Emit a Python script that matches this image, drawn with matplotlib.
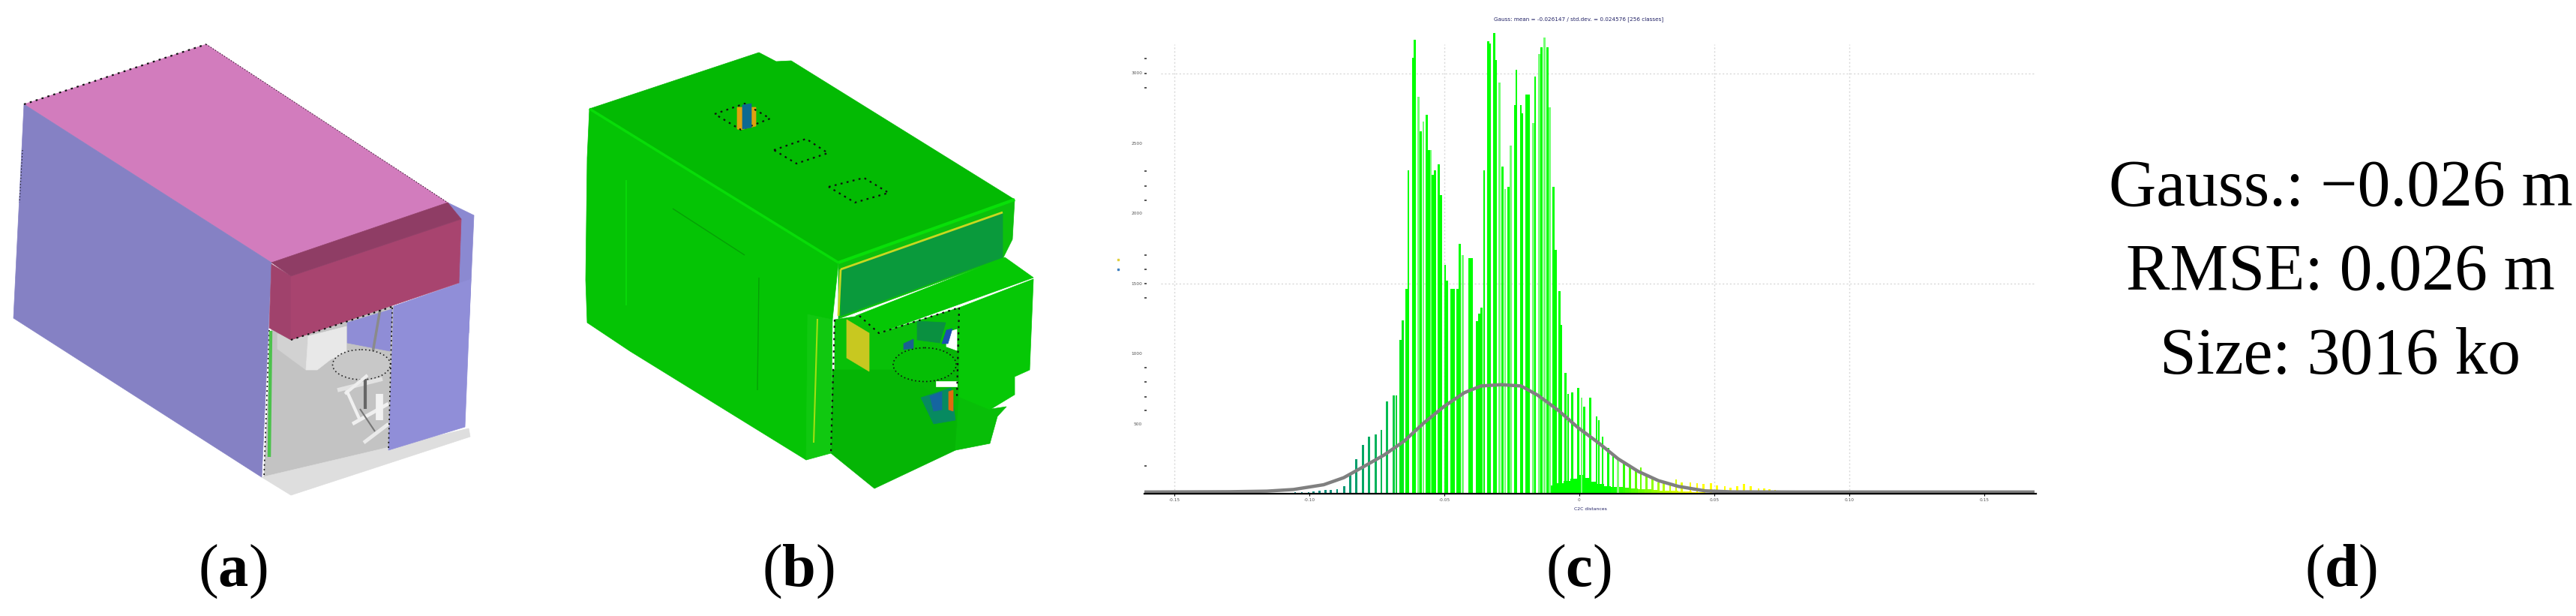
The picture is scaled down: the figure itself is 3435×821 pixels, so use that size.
import matplotlib
matplotlib.use('Agg')
import matplotlib.pyplot as plt
from matplotlib.colors import LinearSegmentedColormap, to_rgb
from matplotlib.patches import Polygon, Ellipse

plt.rcParams['font.family'] = ['Liberation Serif', 'DejaVu Serif']
plt.rcParams['mathtext.fontset'] = 'custom'
plt.rcParams['mathtext.rm'] = 'Liberation Serif'
plt.rcParams['mathtext.bf'] = 'Liberation Serif:bold'

W, H = 3435, 821

#====================HISTOGRAM DATA (c)==================
bar_x = [-0.1053, -0.1028, -0.1003, -0.0984, -0.0962, -0.0941, -0.0920, -0.0897, -0.0870, -0.0848,
         -0.0826, -0.0801, -0.0780, -0.0755, -0.0733, -0.0712, -0.0687, -0.0678, -0.0662, -0.0655,
         -0.0641, -0.0633, -0.0617, -0.0610, -0.0596, -0.0588, -0.0578, -0.0566, -0.0557, -0.0550,
         -0.0543, -0.0535, -0.0521, -0.0513, -0.0497, -0.0491, -0.0474, -0.0466, -0.0451, -0.0444,
         -0.0431, -0.0407, -0.0399, -0.0380, -0.0371, -0.0362, -0.0353, -0.0338, -0.0331, -0.0316,
         -0.0308, -0.0295, -0.0285, -0.0275, -0.0263, -0.0255, -0.0239, -0.0233, -0.0217, -0.0211,
         -0.0195, -0.0188, -0.0171, -0.0164, -0.0149, -0.0141, -0.0130, -0.0119, -0.0109, -0.0095,
         -0.0088, -0.0073, -0.0067, -0.0051, -0.0042, -0.0027, -0.0005, 0.0008, 0.0018, 0.0041,
         0.0064, 0.0072, 0.0086, 0.0107, 0.0125, 0.0144, 0.0165, 0.0187, 0.0209, 0.0228,
         0.0249, 0.0271, 0.0293, 0.0312, 0.0336, 0.0358, 0.0380, 0.0411, 0.0436, 0.0460,
         0.0488, 0.0510, 0.0539, 0.0560, 0.0584, 0.0609, 0.0634, 0.0664, 0.0685, 0.0705,
         0.0725, 0.0745, 0.0817]
bar_h = [11, 11, 11, 16, 20, 25, 28, 34, 52, 132,
         248, 349, 408, 421, 453, 658, 702, 702, 1095, 1237,
         1460, 2307, 3109, 3237, 2827, 2583, 2654, 2699, 2449, 2449,
         2274, 2307, 2348, 2128, 1633, 1518, 1460, 1460, 1460, 1781,
         1700, 1677, 1677, 1228, 1282, 1326, 2307, 3225, 3207, 3282,
         3091, 2931, 2333, 2173, 2187, 2480, 2770, 3020, 2770, 2711,
         2845, 2845, 2640, 2975, 3136, 3180, 3252, 3180, 2752, 2187,
         1736, 1442, 1202, 863, 711, 720, 756, 685, 622, 685,
         551, 524, 408, 328, 283, 239, 221, 194, 168, 185,
         132, 105, 78, 87, 78, 100, 78, 82, 75, 70,
         73, 61, 52, 43, 52, 70, 52, 40, 35, 30,
         25, 20, 15]
pale_bars = [-0.0596, -0.0578, -0.0550, -0.0431, -0.0295, -0.0275, -0.0255, -0.0171, -0.0149, -0.0130,
             -0.0109, 0.0008, 0.0144]

low_x = [-0.0095, -0.0070, -0.0045, -0.0020, 0.0005, 0.0030, 0.0055, 0.0080, 0.0105, 0.0130, 0.0155,
         0.0180, 0.0205, 0.0230, 0.0255, 0.0280, 0.0305, 0.0330, 0.0355, 0.0380, 0.0405, 0.0430, 0.0455]
low_h = [60, 75, 90, 105, 132, 112, 85, 70, 55, 50, 46,
         42, 38, 34, 30, 27, 24, 22, 20, 17, 15, 12, 10]

gauss_x = [-0.1611, -0.1294, -0.1158, -0.1059, -0.0947, -0.0873, -0.0798, -0.0724, -0.0650, -0.0575,
           -0.0501, -0.0426, -0.0364, -0.0290, -0.0216, -0.0154, -0.0079, -0.0005, 0.0070, 0.0144,
           0.0218, 0.0293, 0.0367, 0.0466, 0.0566, 0.0800, 0.1686]
gauss_y = [12, 14, 18, 30, 64, 114, 194, 275, 373, 506,
           622, 720, 768, 777, 768, 702, 596, 471, 364, 248,
           159, 93, 52, 20, 13, 12, 12]

x_ticks = [-0.15, -0.10, -0.05, 0, 0.05, 0.10, 0.15]
x_labels = ['-0.15', '-0.10', '-0.05', '0', '0.05', '0.10', '0.15']
x_grid = [-0.15, -0.05, 0.05, 0.10]
y_ticks = [500, 1000, 1500, 2000, 2500, 3000]
y_minor = [3102, 2995, 2893, 2300, 2193, 2091, 1701, 1599, 1497, 1396, 898, 797, 690, 594, 198]
y_grid = [1497, 2995]

hist_title = 'Gauss: mean = -0.026147 / std.dev. = 0.024576 [256 classes]'
hist_xlabel = 'C2C distances'
stats = ['Gauss.: \u22120.026 m', 'RMSE: 0.026 m', 'Size: 3016 ko']
panel_labels = ['a', 'b', 'c', 'd']
#========================================================

fig = plt.figure(figsize=(W / 100, H / 100), dpi=100, facecolor='white')

# full figure layer in pixels, for the two renders and the text
canvas = fig.add_axes([0, 0, 1, 1])
canvas.set_xlim(0, W)
canvas.set_ylim(H, 0)
canvas.axis('off')


def poly(points, color, z=2):
    canvas.add_patch(Polygon(points, closed=True, facecolor=color, edgecolor=color, lw=0.5, zorder=z))


def dots(points, color='#111111', lw=1.6, z=6, closed=False):
    xs = [p[0] for p in points]
    ys = [p[1] for p in points]
    if closed:
        xs.append(xs[0])
        ys.append(ys[0])
    canvas.plot(xs, ys, color=color, lw=lw, ls=(0, (1.2, 2.5)), zorder=z)


def line(points, color, lw=1.5, z=5):
    canvas.plot([p[0] for p in points], [p[1] for p in points], color=color, lw=lw, zorder=z,
                solid_capstyle='butt')


#============================================================================================================
# PANEL A

poly([(32, 139), (275, 59), (597, 270), (362, 350)], '#D27CBD')
poly([(32, 139), (362, 350), (349, 636), (18, 424)], '#8581C4')
poly([(362, 439), (525, 408), (518, 600), (352, 636)], '#C3C3C3')
poly([(349, 636), (625, 571), (627, 582), (388, 660)], '#DEDEDE')
poly([(463, 430), (523, 412), (520, 468), (463, 457)], '#8F8DD6', 3)
poly([(370, 445), (411, 448), (408, 493), (370, 465)], '#D2D2D2', 3)
poly([(411, 448), (462, 435), (462, 470), (441, 479), (423, 493), (408, 493)], '#E8E8E8', 3)
canvas.add_patch(Ellipse((482, 486), 77, 40, facecolor='#C8C8C8', edgecolor='#222222', lw=1.2, ls=(0, (1, 2)), zorder=5))
line([(507, 412), (497, 470)], '#8A8A8A', 2.5, 4)
line([(450, 520), (510, 505)], '#E2E2E2', 4, 5)
line([(487, 505), (487, 545)], '#666666', 3, 5)
line([(460, 525), (490, 500)], '#EEEEEE', 3, 5)
line([(462, 520), (480, 560)], '#F0F0F0', 3, 5)
line([(470, 565), (518, 538)], '#EFEFEF', 3.5, 5)
line([(485, 590), (518, 565)], '#EAEAEA', 3.5, 5)
line([(480, 545), (500, 575)], '#777777', 1.5, 5)
line([(506, 525), (506, 560)], '#F2F2F2', 7, 5)
poly([(525, 408), (628, 372), (620, 569), (518, 600)], '#908ED8', 6)
poly([(597, 270), (632, 287), (625, 444), (612, 377), (615, 292)], '#8B89D1', 4)
poly([(362, 352), (388, 368), (388, 453), (359, 437)], '#A0426C', 7)
poly([(388, 368), (615, 292), (612, 377), (388, 453)], '#A8446F', 7)
poly([(362, 350), (597, 270), (615, 292), (388, 368)], '#8F3D65', 7)
line([(361, 441), (359, 609)], '#4CC24C', 3.2, 8)
dots([(32, 139), (275, 59)])
dots([(275, 59), (597, 270)], lw=0.7)
dots([(359, 440), (352, 636)], lw=1.2)
dots([(388, 453), (525, 408)], lw=1.5, z=8)
dots([(30, 200), (26, 270)], lw=0.8)
dots([(523, 410), (518, 600)], lw=1.2, z=8)

#============================================================================================================
# PANEL B

poly([(786, 145), (1012, 70), (1035, 82), (1055, 81), (1353, 266), (1118, 350)], '#03BA03')
poly([(786, 145), (1118, 350), (1110, 426), (1075, 613), (840, 468), (783, 430), (781, 373), (783, 210)], '#05C405')
poly([(1118, 350), (1353, 266), (1350, 319), (1337, 345), (1118, 425)], '#0CC00C', 2)
poly([(1121, 359), (1337, 283), (1337, 343), (1121, 421)], '#0A9A3C', 3)
poly([(1141, 421), (1340, 343), (1378, 370), (1172, 444)], '#05C805', 4)
poly([(1113, 426), (1146, 421), (1172, 444), (1279, 410), (1279, 457), (1197, 493), (1113, 493)], '#08C008', 3)
poly([(1197, 493), (1279, 457), (1279, 546), (1274, 600)], '#07B507', 3)
poly([(1279, 410), (1378, 372), (1373, 493), (1353, 502), (1353, 526), (1320, 546), (1279, 529)], '#06C806', 6)
poly([(1077, 419), (1110, 426), (1108, 604), (1075, 613)], '#10C810', 4)
poly([(1110, 493), (1197, 493), (1274, 546), (1274, 600), (1166, 651), (1108, 604)], '#05B505', 3)
poly([(1129, 426), (1159, 444), (1159, 495), (1129, 477)], '#C8C820', 4)
poly([(1223, 428), (1261, 430), (1253, 457), (1223, 453)], '#0A9040', 4)
poly([(1262, 443), (1276, 439), (1276, 467), (1262, 462)], 'white', 5)
poly([(1248, 508), (1276, 508), (1276, 515), (1248, 515)], 'white', 5)
canvas.add_patch(Ellipse((1233, 486), 84, 45, facecolor='#05BE05', edgecolor='#111111', lw=1.2, ls=(0, (1, 2)), zorder=6))
poly([(1279, 525), (1302, 517), (1322, 545), (1342, 542), (1330, 555), (1320, 591), (1274, 600)], '#08BE08', 5)
poly([(1228, 530), (1268, 517), (1274, 560), (1245, 565)], '#078A60', 5)
poly([(1265, 522), (1271, 520), (1271, 548), (1265, 546)], '#E06A10', 6)
poly([(1240, 528), (1256, 522), (1256, 546), (1245, 548)], '#1565A0', 6)
poly([(1262, 440), (1270, 438), (1264, 458), (1256, 458)], '#1A50B0', 6)
poly([(1205, 458), (1218, 452), (1218, 464), (1205, 466)], '#1A6090', 6)
line([(1121, 359), (1337, 283)], '#C8D820', 2, 6)
line([(1121, 359), (1118, 421)], '#C8D820', 2, 6)
line([(1118, 350), (1353, 266)], '#08E008', 3, 6)
line([(786, 145), (1118, 350)], '#08DC08', 2.5, 6)
line([(1090, 425), (1085, 590)], '#A0E010', 1.5, 6)
line([(1012, 370), (1010, 520)], '#06A006', 1, 6)
line([(835, 240), (835, 407)], '#08D808', 1.5, 6)
line([(897, 278), (993, 340)], '#06A006', 1, 6)
dots([(953, 152), (993, 138), (1027, 158), (988, 173)], closed=True)
dots([(1032, 200), (1075, 185), (1104, 204), (1062, 218)], closed=True)
dots([(1105, 249), (1152, 237), (1185, 257), (1140, 270)], closed=True)
poly([(983, 143), (1008, 143), (1008, 168), (988, 173), (983, 172)], '#E0A010', 5)
poly([(990, 140), (1002, 138), (1002, 170), (990, 172)], '#0C6A90', 6)
dots([(1113, 426), (1108, 604)], lw=1.6, z=8)
dots([(1146, 421), (1172, 444), (1279, 410)], lw=1.6, z=8)
dots([(1279, 410), (1276, 530)], lw=1.6, z=8)

# colour scale specks next to the histogram
canvas.plot([1491], [346], 's', ms=1.5, color='#E0D040')
canvas.plot([1491], [359], 's', ms=1.5, color='#4080C0')

#============================================================================================================
# PANEL C

left, right, top, bottom = 1526, 2715, 40, 658
ax = fig.add_axes([left / W, (H - bottom) / H, (right - left) / W, (bottom - top) / H])
ax.patch.set_alpha(0)
ax.set_xlim((left - 2106) / 3600, (right - 2106) / 3600)
ax.set_ylim(0, (bottom - top) * 5.348)

cmap = LinearSegmentedColormap.from_list('c2c', [(0, '#0A8090'), (0.13, '#009A70'), (0.21, '#00C050'),
                                                 (0.24, '#00FF00'), (0.64, '#00FF00'), (0.74, '#B0FF00'),
                                                 (0.80, '#FFFF00'), (1, '#FFFF00')])
to_cmap = lambda v: max(0, min(1, (v + 0.11) / 0.19))

ax.vlines(x_grid, 0, ax.get_ylim()[1] * 0.97, color='#D8D8D8', lw=1, ls=(0, (1.5, 2)), zorder=0)
ax.hlines(y_grid, ax.get_xlim()[0] + 0.006, ax.get_xlim()[1], color='#D8D8D8', lw=1, ls=(0, (1.5, 2)), zorder=0)

for x, h in zip(low_x, low_h):
    ax.bar(x, h, width=0.0026, color=cmap(to_cmap(x)), lw=0, zorder=2)
for x, h in zip(bar_x, bar_h):
    c = to_rgb(cmap(to_cmap(x))[:3])
    if x in pale_bars:
        c = tuple(0.55 * v + 0.45 for v in c)
    ax.bar(x, h, width=0.00075, color=c, lw=0, zorder=3)

ax.plot(gauss_x, gauss_y, color='#808080', lw=3.2, zorder=4, solid_capstyle='butt', clip_on=False)

for s in ['top', 'left', 'right']:
    ax.spines[s].set_visible(False)
ax.spines['bottom'].set_linewidth(1.6)
ax.spines['bottom'].set_zorder(5)
ax.set_xticks(x_ticks)
ax.set_xticklabels(x_labels, fontsize=4.2, color='#555555', family='DejaVu Sans')
ax.set_yticks(y_ticks)
ax.set_yticklabels([str(v) for v in y_ticks], fontsize=4.2, color='#555555', family='DejaVu Sans')
ax.set_yticks(y_minor, minor=True)
ax.tick_params(axis='x', length=2, width=0.8, pad=2)
ax.tick_params(axis='y', which='major', length=0, pad=2)
ax.tick_params(axis='y', which='minor', length=2.5, width=1.4, direction='in', color='#555555')
canvas.text(2105, 26, hist_title, fontsize=5.2, ha='center', va='center', family='DejaVu Sans', color='#222266')
canvas.text(2121, 679, hist_xlabel, fontsize=4.4, ha='center', va='center', family='DejaVu Sans', color='#222266')

#============================================================================================================
# PANEL D and labels

for txt, base in zip(stats, [274, 386, 498]):
    canvas.text(3121, base, txt, fontsize=63, ha='center', va='baseline', color='black')

for lab, cx in zip(panel_labels, [310, 1064, 2105, 3121]):
    canvas.text(cx, 781, '($\\mathbf{%s}$)' % lab, fontsize=58, ha='center', va='baseline', color='black')

plt.savefig('out.png', dpi=100)
